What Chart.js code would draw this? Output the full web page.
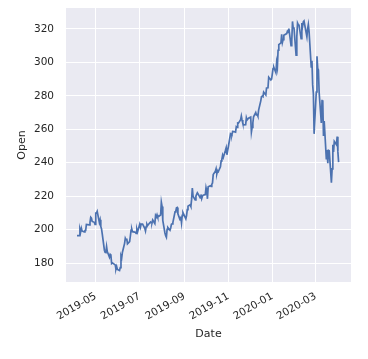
<!DOCTYPE html>
<html><head><meta charset="utf-8">
<script src="https://cdn.jsdelivr.net/npm/chart.js@4.4.0/dist/chart.umd.min.js"></script>
<style>html,body{margin:0;padding:0;background:#fff;}#wrap{width:368px;height:359px;}</style>
</head><body><div id="wrap"><canvas id="c" width="368" height="359"></canvas></div>
<script>
const dates = [
'2019-04-05','2019-04-08','2019-04-09','2019-04-10','2019-04-11','2019-04-12','2019-04-15','2019-04-16','2019-04-17','2019-04-18','2019-04-22','2019-04-23','2019-04-24','2019-04-25','2019-04-26','2019-04-29','2019-04-30',
'2019-05-01','2019-05-02','2019-05-03','2019-05-06','2019-05-07','2019-05-08','2019-05-09','2019-05-10','2019-05-13','2019-05-14','2019-05-15','2019-05-16','2019-05-17','2019-05-20','2019-05-21','2019-05-22','2019-05-23','2019-05-24','2019-05-28','2019-05-29','2019-05-30','2019-05-31',
'2019-06-03','2019-06-04','2019-06-05','2019-06-06','2019-06-07','2019-06-10','2019-06-11','2019-06-12','2019-06-13','2019-06-14','2019-06-17','2019-06-18','2019-06-19','2019-06-20','2019-06-21','2019-06-24','2019-06-25','2019-06-26','2019-06-27','2019-06-28',
'2019-07-01','2019-07-02','2019-07-03','2019-07-05','2019-07-08','2019-07-09','2019-07-10','2019-07-11','2019-07-12','2019-07-15','2019-07-16','2019-07-17','2019-07-18','2019-07-19','2019-07-22','2019-07-23','2019-07-24','2019-07-25','2019-07-26','2019-07-29','2019-07-30','2019-07-31',
'2019-08-01','2019-08-02','2019-08-05','2019-08-06','2019-08-07','2019-08-08','2019-08-09','2019-08-12','2019-08-13','2019-08-14','2019-08-15','2019-08-16','2019-08-19','2019-08-20','2019-08-21','2019-08-22','2019-08-23','2019-08-26','2019-08-27','2019-08-28','2019-08-29','2019-08-30',
'2019-09-03','2019-09-04','2019-09-05','2019-09-06','2019-09-09','2019-09-10','2019-09-11','2019-09-12','2019-09-13','2019-09-16','2019-09-17','2019-09-18','2019-09-19','2019-09-20','2019-09-23','2019-09-24','2019-09-25','2019-09-26','2019-09-27','2019-09-30',
'2019-10-01','2019-10-02','2019-10-03','2019-10-04','2019-10-07','2019-10-08','2019-10-09','2019-10-10','2019-10-11','2019-10-14','2019-10-15','2019-10-16','2019-10-17','2019-10-18','2019-10-21','2019-10-22','2019-10-23','2019-10-24','2019-10-25','2019-10-28','2019-10-29','2019-10-30','2019-10-31',
'2019-11-01','2019-11-04','2019-11-05','2019-11-06','2019-11-07','2019-11-08','2019-11-11','2019-11-12','2019-11-13','2019-11-14','2019-11-15','2019-11-18','2019-11-19','2019-11-20','2019-11-21','2019-11-22','2019-11-25','2019-11-26','2019-11-27','2019-11-29',
'2019-12-02','2019-12-03','2019-12-04','2019-12-05','2019-12-06','2019-12-09','2019-12-10','2019-12-11','2019-12-12','2019-12-13','2019-12-16','2019-12-17','2019-12-18','2019-12-19','2019-12-20','2019-12-23','2019-12-24','2019-12-26','2019-12-27','2019-12-30','2019-12-31',
'2020-01-02','2020-01-03','2020-01-06','2020-01-07','2020-01-08','2020-01-09','2020-01-10','2020-01-13','2020-01-14','2020-01-15','2020-01-16','2020-01-17','2020-01-21','2020-01-22','2020-01-23','2020-01-24','2020-01-27','2020-01-28','2020-01-29','2020-01-30','2020-01-31',
'2020-02-03','2020-02-04','2020-02-05','2020-02-06','2020-02-07','2020-02-10','2020-02-11','2020-02-12','2020-02-13','2020-02-14','2020-02-18','2020-02-19','2020-02-20','2020-02-21','2020-02-24','2020-02-25','2020-02-26','2020-02-27','2020-02-28',
'2020-03-02','2020-03-03','2020-03-04','2020-03-05','2020-03-06','2020-03-09','2020-03-10','2020-03-11','2020-03-12','2020-03-13','2020-03-16','2020-03-17','2020-03-18','2020-03-19','2020-03-20','2020-03-23','2020-03-24','2020-03-25','2020-03-26','2020-03-27','2020-03-30','2020-03-31',
'2020-04-01','2020-04-02'
];
const opens = [
196.45,196.42,200.32,198.68,200.85,199.20,198.58,199.46,199.54,203.12,202.83,204.43,207.36,206.83,204.90,204.40,203.06,
209.88,209.84,210.89,204.29,205.88,201.90,200.40,197.42,187.71,186.41,186.27,189.91,186.93,183.52,185.22,184.66,179.80,180.20,178.92,176.42,177.95,176.23,
175.60,177.33,184.28,183.08,186.51,191.81,194.86,193.95,194.70,191.55,192.90,196.05,199.68,200.37,198.80,198.54,198.43,197.77,200.29,198.68,
203.17,201.41,203.28,203.35,200.81,199.20,201.85,203.31,202.45,204.09,204.59,204.05,204.00,205.79,203.65,208.46,207.67,208.89,207.48,208.46,208.76,216.42,
213.90,205.53,197.99,196.31,195.41,200.20,201.30,199.62,201.02,203.16,203.46,204.28,210.62,210.88,212.99,213.19,209.43,205.86,207.86,204.10,208.50,210.16,
206.43,208.39,212.00,214.05,214.84,213.86,218.07,224.80,220.00,217.73,219.96,221.06,222.01,221.38,218.95,221.03,218.55,220.00,220.54,220.90,
225.07,223.06,218.43,225.64,226.27,225.82,227.03,227.93,232.95,234.90,236.39,233.37,235.09,234.59,237.52,241.16,242.10,244.51,243.16,247.42,248.97,244.76,247.24,
249.54,257.33,257.05,256.77,258.74,258.69,258.30,261.55,261.13,263.75,263.68,265.80,267.90,265.54,263.69,262.59,262.71,266.94,265.58,266.60,
267.27,258.31,261.07,263.79,267.48,270.00,268.60,268.81,267.78,271.46,277.00,279.57,279.80,279.50,282.23,280.53,284.69,284.82,291.12,289.46,289.93,
296.24,297.15,293.79,299.84,297.16,307.24,310.60,311.64,316.70,311.85,313.59,316.27,317.19,318.58,317.92,320.25,310.06,312.60,324.45,320.54,320.93,
304.30,315.31,323.52,322.57,322.37,314.18,323.60,321.47,324.19,324.74,315.36,320.00,322.63,318.62,297.26,300.95,286.53,281.10,257.26,
282.28,303.67,296.44,295.52,282.00,263.75,277.14,277.39,255.94,264.89,241.95,247.51,239.77,247.39,247.18,228.08,236.36,250.75,246.52,252.75,250.74,255.60,
246.50,240.34
];
const xTickDates = ['2019-05-01','2019-07-01','2019-09-01','2019-11-01','2020-01-01','2020-03-01'];
const xTickLabels = ['2019-05','2019-07','2019-09','2019-11','2020-01','2020-03'];
const yTicks = [180,200,220,240,260,280,300,320];

const toT = s => Date.parse(s + 'T00:00:00Z');
const DAY = 86400000;
const xMin = toT('2019-03-21') - 0.3*DAY;
const xMax = toT('2020-04-19') + 0.2*DAY;
const yMin = 168.7, yMax = 332.5;

const TEXT = '#262626';
const bgPlugin = {
  id: 'bg',
  beforeDraw(chart) {
    const {ctx, chartArea: a} = chart;
    ctx.save();
    ctx.fillStyle = '#EAEAF2';
    ctx.fillRect(a.left, a.top, a.right - a.left, a.bottom - a.top);
    ctx.restore();
  }
};

new Chart(document.getElementById('c'), {
  type: 'line',
  data: {
    datasets: [{
      data: dates.map((d, i) => ({x: toT(d), y: opens[i]})),
      borderColor: '#4C72B0',
      borderWidth: 1.7,
      pointRadius: 0,
      tension: 0,
      fill: false
    }]
  },
  options: {
    responsive: false,
    animation: false,
    devicePixelRatio: 1,
    layout: {padding: {top: 8, right: 17, left: 0, bottom: 0}},
    plugins: {legend: {display: false}, tooltip: {enabled: false}},
    scales: {
      x: {
        type: 'linear', min: xMin, max: xMax,
        afterBuildTicks: s => { s.ticks = xTickDates.map(d => ({value: toT(d)})); },
        afterFit: s => { s.height = 77; s.paddingLeft = 0; s.paddingRight = 0; s.paddingTop = 0; s.paddingBottom = 0; },
        grid: {color: '#ffffff', lineWidth: 1, drawTicks: false},
        border: {display: false},
        ticks: {
          minRotation: 30, maxRotation: 30, autoSkip: false, padding: 8,
          color: TEXT, font: {family: 'DejaVu Sans', size: 10.5},
          callback: (v, i) => xTickLabels[i]
        },
        title: {display: true, text: 'Date', color: TEXT,
          font: {family: 'DejaVu Sans', size: 11}, padding: {top: 0, bottom: 18}}
      },
      y: {
        type: 'linear', min: yMin, max: yMax,
        afterBuildTicks: s => { s.ticks = yTicks.map(v => ({value: v})); },
        afterFit: s => { s.width = 66; s.paddingTop = 0; s.paddingBottom = 0; s.paddingLeft = 0; s.paddingRight = 0; },
        grid: {color: '#ffffff', lineWidth: 1, drawTicks: false},
        border: {display: false},
        ticks: {padding: 12, color: TEXT, font: {family: 'DejaVu Sans', size: 10.5},
          callback: v => String(v)},
        title: {display: true, text: 'Open', color: TEXT,
          font: {family: 'DejaVu Sans', size: 11}, padding: {top: 16, bottom: 0}}
      }
    }
  },
  plugins: [bgPlugin]
});
</script>
</body></html>
